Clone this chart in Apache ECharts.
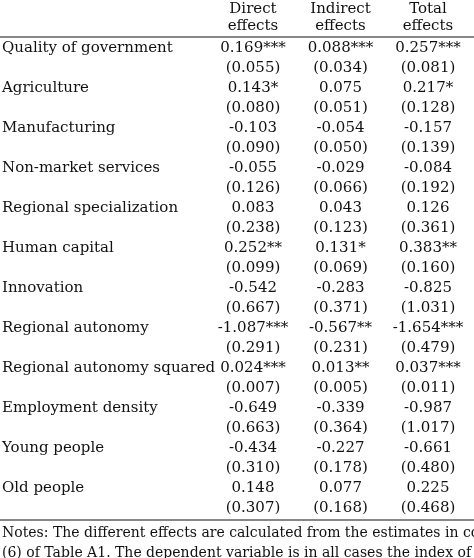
<!DOCTYPE html>
<html>
<head>
<meta charset="utf-8">
<style>
  *{box-sizing:border-box;}
  body,html{margin:0;padding:0;width:100%;height:100%;background:#fff;}
  #chart{width:474px;height:558px;}
</style>
<script src="https://cdn.jsdelivr.net/npm/echarts@6/dist/echarts.min.js"></script>
</head>
<body>
<div id="chart"></div>
<script>
var variables = ["Quality of government","Agriculture","Manufacturing","Non-market services",
  "Regional specialization","Human capital","Innovation","Regional autonomy",
  "Regional autonomy squared","Employment density","Young people","Old people"];
var headers = [["Direct","effects"],["Indirect","effects"],["Total","effects"]];
var directEst = ["0.169***","0.143*","-0.103","-0.055","0.083","0.252**","-0.542","-1.087***","0.024***","-0.649","-0.434","0.148"];
var directSe  = ["(0.055)","(0.080)","(0.090)","(0.126)","(0.238)","(0.099)","(0.667)","(0.291)","(0.007)","(0.663)","(0.310)","(0.307)"];
var indirectEst = ["0.088***","0.075","-0.054","-0.029","0.043","0.131*","-0.283","-0.567**","0.013**","-0.339","-0.227","0.077"];
var indirectSe  = ["(0.034)","(0.051)","(0.050)","(0.066)","(0.123)","(0.069)","(0.371)","(0.231)","(0.005)","(0.364)","(0.178)","(0.168)"];
var totalEst = ["0.257***","0.217*","-0.157","-0.084","0.126","0.383**","-0.825","-1.654***","0.037***","-0.987","-0.661","0.225"];
var totalSe  = ["(0.081)","(0.128)","(0.139)","(0.192)","(0.361)","(0.160)","(1.031)","(0.479)","(0.011)","(1.017)","(0.480)","(0.468)"];
var notes = ["Notes: The different effects are calculated from the estimates in column",
  "(6) of Table A1. The dependent variable is in all cases the index of"];

var FONT = '"DejaVu Serif","Liberation Serif",serif';
var cells = [];  // [col, row, text, align]
headers.forEach(function(h,i){
  cells.push([i+1,-1.95,h[0],'center']);
  cells.push([i+1,-1.1,h[1],'center']);
});
var cols = [[directEst,directSe],[indirectEst,indirectSe],[totalEst,totalSe]];
variables.forEach(function(v,i){
  cells.push([-1.891,2*i,v,'left']);
  cols.forEach(function(c,j){
    cells.push([j+1,2*i,c[0][i],'center']);
    cells.push([j+1,2*i+1,c[1][i],'center']);
  });
});
notes.forEach(function(n,i){ cells.push([-1.891,24.25+i,n,'left']); });
var rules = [[-0.55],[23.6]];

var chart = echarts.init(document.getElementById('chart'));
chart.setOption({
  animation:false,
  grid:{left:0,right:0,top:0,bottom:0},
  xAxis:{type:'value',min:-1.891,max:3.526,show:false},
  yAxis:{type:'value',min:-2.4,max:25.5,inverse:true,show:false},
  series:[{
    type:'custom',
    data:cells,
    renderItem:function(params,api){
      var p = api.coord([api.value(0),api.value(1)]);
      var d = cells[params.dataIndex];
      return {type:'text',x:p[0]+(d[3]==='left'?2:0),y:p[1],style:{
        text:d[2],textAlign:d[3],textVerticalAlign:'middle',
        font:(d[1]>24?'14px ':'15px ')+FONT,fill:'#111'}};
    }
  },{
    type:'custom',
    data:rules,
    renderItem:function(params,api){
      var a = api.coord([-1.891,api.value(0)]);
      var b = api.coord([3.526,api.value(0)]);
      return {type:'line',shape:{x1:a[0],y1:a[1],x2:b[0],y2:b[1]},style:{stroke:'#111',lineWidth:1}};
    }
  }]
});
</script>
</body>
</html>
